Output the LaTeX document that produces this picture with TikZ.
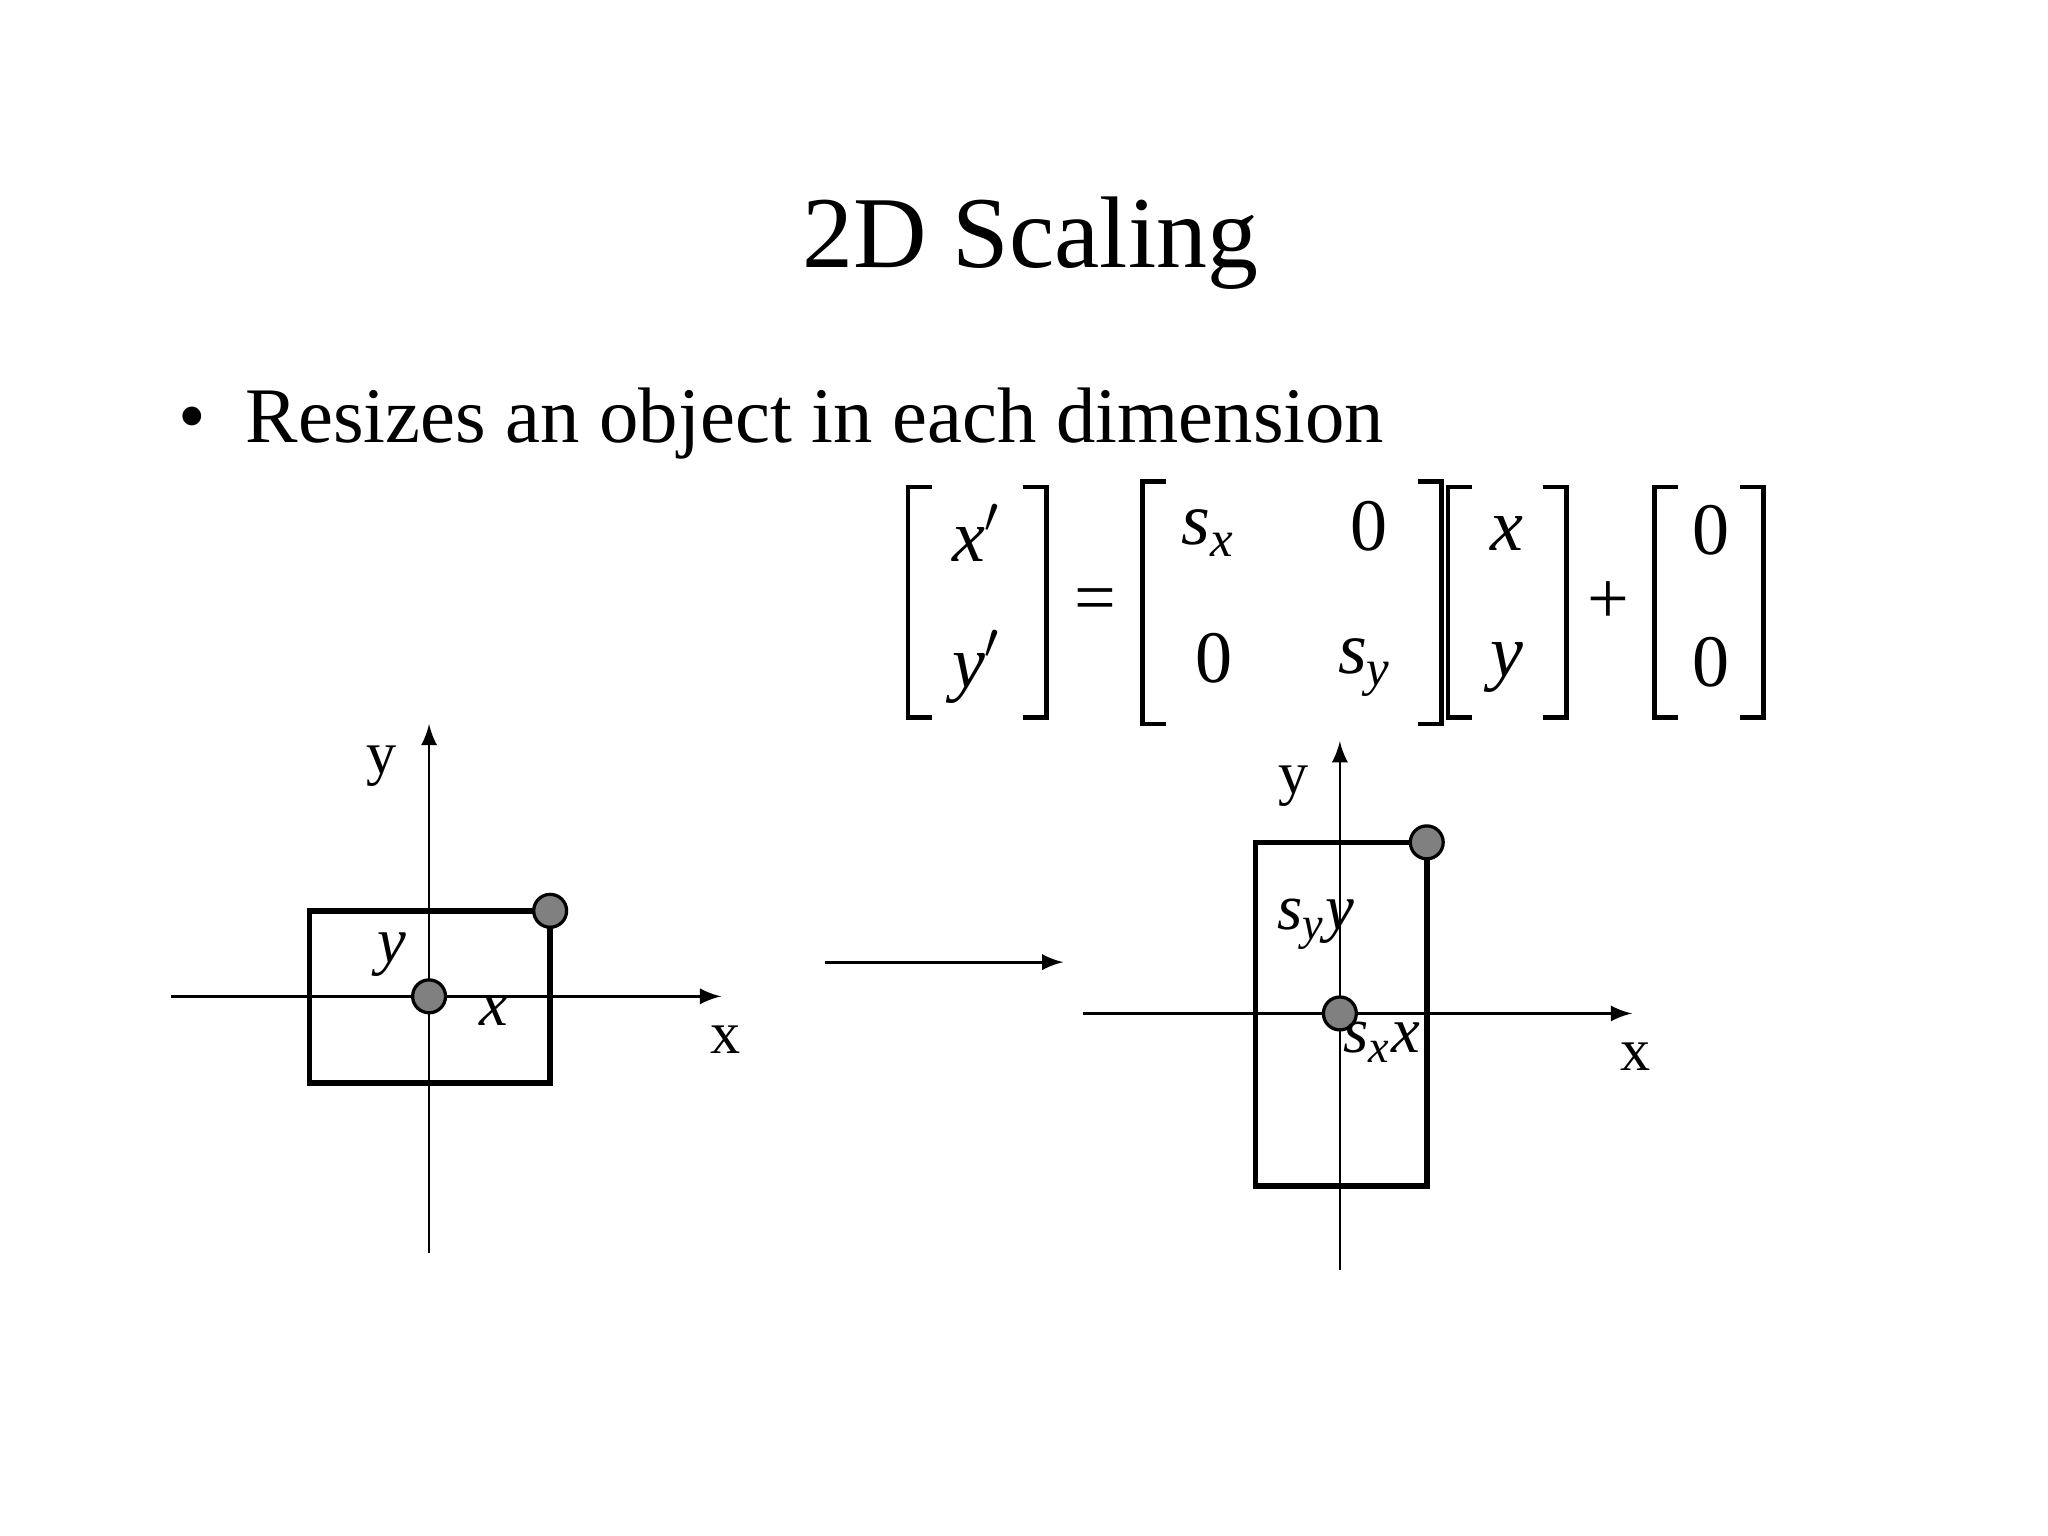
\documentclass[tikz,border=0pt]{standalone}
\usepackage{fontspec}
\setmainfont{Liberation Serif}
\begin{document}
\begin{tikzpicture}[x=0.01cm,y=-0.01cm,
 dot/.style={circle,draw,fill=gray,minimum size=0.25cm,inner sep=0pt,line width=0.7pt},
 ax/.style={line width=0.6pt,-latex},
 br/.style={line width=1pt},
 lab/.style={font=\fontsize{13}{13}\selectfont,inner sep=0pt},
 ent/.style={font=\fontsize{16}{16}\selectfont\itshape,inner sep=0pt},
 num/.style={font=\fontsize{16}{16}\selectfont,inner sep=0pt}]
\useasboundingbox (0,0) rectangle (1556,1167);
\node[font=\fontsize{22}{22}\selectfont] (title) at (783,185) {2D Scaling};
\node[font=\fontsize{17}{17}\selectfont,anchor=west,inner sep=0pt] (bul) at (135,322) {\textbullet\hspace{0.3cm}Resizes an object in each dimension};
% brackets
\foreach \a/\b/\t/\bt in {690/795/370/545, 868/1095/366/550, 1100/1190/370/545, 1257/1340/370/545}{
 \draw[br] (\a+18,\t) -- (\a,\t) -- (\a,\bt) -- (\a+18,\bt);
 \draw[br] (\b-18,\t) -- (\b,\t) -- (\b,\bt) -- (\b-18,\bt);}
\node[ent] (xp) at (742,405) {x$'$};
\node[ent] (yp) at (742,507) {y$'$};
\node[num] (eq) at (832,460) {=};
\node[ent] (sx) at (918,405) {s\textsubscript{\fontsize{11}{11}\selectfont x}};
\node[num] (z1) at (1040,400) {0};
\node[num] (z2) at (922,500) {0};
\node[ent] (sy) at (1037,507) {s\textsubscript{\fontsize{11}{11}\selectfont y}};
\node[ent] (vx) at (1145,405) {x};
\node[ent] (vy) at (1145,507) {y};
\node[num] (pl) at (1222,458) {+};
\node[num] (z3) at (1300,403) {0};
\node[num] (z4) at (1300,503) {0};
% left diagram
\coordinate (lx0) at (130,757); \coordinate (lx1) at (548,757);
\coordinate (ly0) at (326,952); \coordinate (ly1) at (326,550);
\draw[ax] (lx0) -- (lx1);
\draw[ax] (ly0) -- (ly1);
\draw[line width=1.2pt] (235,692) rectangle (418,823);
\node[dot] (lo) at (326,757) {};
\node[dot] (lc) at (418,692) {};
\node[lab] (lyl) at (290,582) {y};
\node[lab] (lxl) at (551,790) {x};
\node[lab,font=\fontsize{14}{14}\selectfont\itshape] (liy) at (298,725) {y};
\node[lab,font=\fontsize{14}{14}\selectfont\itshape] (lix) at (375,768) {x};
% middle arrow
\coordinate (m0) at (627,731); \coordinate (m1) at (808,731);
\draw[ax] (m0) -- (m1);
% right diagram
\coordinate (rx0) at (823,770); \coordinate (rx1) at (1240,770);
\coordinate (ry0) at (1018,965); \coordinate (ry1) at (1018,563);
\draw[ax] (rx0) -- (rx1);
\draw[ax] (ry0) -- (ry1);
\draw[line width=1.2pt] (954,640) rectangle (1084,901);
\node[dot] (ro) at (1018,770) {};
\node[dot] (rc) at (1084,640) {};
\node[lab] (ryl) at (983,597) {y};
\node[lab] (rxl) at (1243,803) {x};
\node[lab,font=\fontsize{14}{14}\selectfont\itshape] (riy) at (1000,702) {s\textsubscript{\fontsize{10}{10}\selectfont y}y};
\node[lab,font=\fontsize{14}{14}\selectfont\itshape] (rix) at (1050,792) {s\textsubscript{\fontsize{10}{10}\selectfont x}x};
\end{tikzpicture}
\end{document}
